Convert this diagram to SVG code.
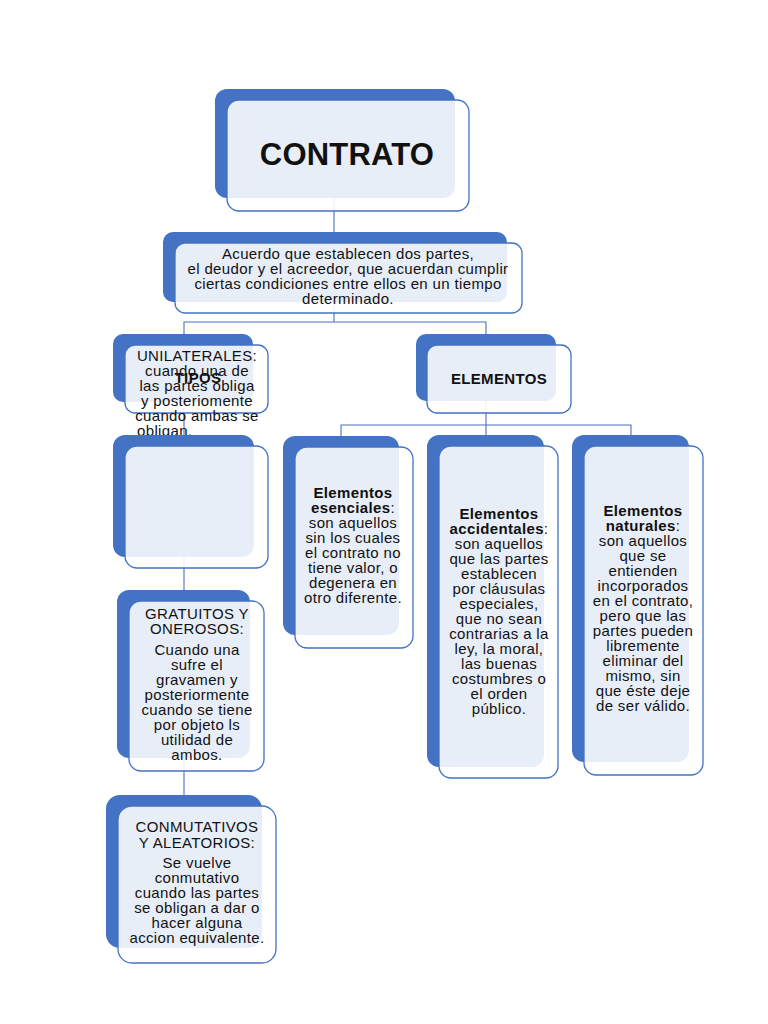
<svg xmlns="http://www.w3.org/2000/svg" width="768" height="1024" viewBox="0 0 768 1024">
<style>
.bk{fill:#4472C4;}
.fr{fill:#FFFFFF;fill-opacity:0.88;stroke:#4472C4;stroke-width:1.3;}
.cn{fill:none;stroke:#4A72BE;stroke-width:1.1;}
.t{font-family:"Liberation Sans",Arial,sans-serif;font-size:15px;fill:#111111;text-anchor:middle;letter-spacing:0.35px;}
.b{font-weight:bold;}
</style>
<rect width="768" height="1024" fill="#FFFFFF"/>
<g id="connectors">
<path class="cn" d="M334 197V322M184 334V322H486V334M486 401V425M341 436V425H631V436M486 425V436M184 402V436M184 557V591M184 758V796"/>
</g>
<g id="contrato">
<rect class="bk" x="215" y="89" width="240" height="109" rx="12"/>
<rect class="fr" x="227" y="100" width="242" height="111" rx="12"/>
<text class="t b" x="347" y="165" style="font-size:31px;letter-spacing:0.2px">CONTRATO</text>
</g>
<g id="definicion">
<rect class="bk" x="163" y="232" width="344" height="70" rx="10"/>
<rect class="fr" x="175" y="243" width="347" height="70" rx="10"/>
<text class="t" x="348" y="259">Acuerdo que establecen dos partes,</text>
<text class="t" x="348" y="274">el deudor y el acreedor, que acuerdan cumplir</text>
<text class="t" x="348" y="289">ciertas condiciones entre ellos en un tiempo</text>
<text class="t" x="348" y="304">determinado.</text>
</g>
<g id="tipos">
<rect class="bk" x="113" y="334" width="140" height="68" rx="10"/>
<rect class="fr" x="125" y="345" width="143" height="68" rx="10"/>
<text class="t b" x="198" y="383">TIPOS</text>
<text class="t" x="197" y="361">UNILATERALES:</text>
<text class="t" x="197" y="376">cuando una de</text>
<text class="t" x="197" y="391">las partes obliga</text>
<text class="t" x="197" y="406">y posteriomente</text>
<text class="t" x="197" y="421">cuando ambas se</text>
<text class="t" x="137" y="436" style="text-anchor:start">obligan.</text>
</g>
<g id="elementos">
<rect class="bk" x="416" y="334" width="140" height="67" rx="10"/>
<rect class="fr" x="427" y="345" width="144" height="68" rx="10"/>
<text class="t b" x="499" y="384">ELEMENTOS</text>
</g>
<g id="vacio">
<rect class="bk" x="113" y="435" width="141" height="122" rx="12"/>
<rect class="fr" x="125" y="446" width="143" height="122" rx="12"/>
</g>
<g id="gratuitos">
<rect class="bk" x="117" y="590" width="133" height="168" rx="12"/>
<rect class="fr" x="129" y="601" width="135" height="170" rx="12"/>
<text class="t" x="197" y="619">GRATUITOS Y</text>
<text class="t" x="197" y="634">ONEROSOS:</text>
<text class="t" x="197" y="655">Cuando una</text>
<text class="t" x="197" y="670">sufre el</text>
<text class="t" x="197" y="685">gravamen y</text>
<text class="t" x="197" y="700">posteriormente</text>
<text class="t" x="197" y="715">cuando se tiene</text>
<text class="t" x="197" y="730">por objeto ls</text>
<text class="t" x="197" y="745">utilidad de</text>
<text class="t" x="197" y="760">ambos.</text>
</g>
<g id="conmutativos">
<rect class="bk" x="106" y="795" width="156" height="153" rx="14"/>
<rect class="fr" x="118" y="806" width="158" height="157" rx="14"/>
<text class="t" x="197" y="832">CONMUTATIVOS</text>
<text class="t" x="197" y="848">Y ALEATORIOS:</text>
<text class="t" x="197" y="868">Se vuelve</text>
<text class="t" x="197" y="883">conmutativo</text>
<text class="t" x="197" y="898">cuando las partes</text>
<text class="t" x="197" y="913">se obligan a dar o</text>
<text class="t" x="197" y="928">hacer alguna</text>
<text class="t" x="197" y="943">accion equivalente.</text>
</g>
<g id="esenciales">
<rect class="bk" x="283" y="436" width="116" height="199" rx="12"/>
<rect class="fr" x="295" y="447" width="118" height="201" rx="12"/>
<text class="t" x="353" y="498"><tspan class="b">Elementos</tspan></text>
<text class="t" x="353" y="513"><tspan class="b">esenciales</tspan>:</text>
<text class="t" x="353" y="528">son aquellos</text>
<text class="t" x="353" y="543">sin los cuales</text>
<text class="t" x="353" y="558">el contrato no</text>
<text class="t" x="353" y="573">tiene valor, o</text>
<text class="t" x="353" y="588">degenera en</text>
<text class="t" x="353" y="603">otro diferente.</text>
</g>
<g id="accidentales">
<rect class="bk" x="427" y="435" width="117" height="332" rx="12"/>
<rect class="fr" x="439" y="446" width="119" height="332" rx="12"/>
<text class="t" x="499" y="519"><tspan class="b">Elementos</tspan></text>
<text class="t" x="499" y="534"><tspan class="b">accidentales</tspan>:</text>
<text class="t" x="499" y="549">son aquellos</text>
<text class="t" x="499" y="564">que las partes</text>
<text class="t" x="499" y="579">establecen</text>
<text class="t" x="499" y="594">por cláusulas</text>
<text class="t" x="499" y="609">especiales,</text>
<text class="t" x="499" y="624">que no sean</text>
<text class="t" x="499" y="639">contrarias a la</text>
<text class="t" x="499" y="654">ley, la moral,</text>
<text class="t" x="499" y="669">las buenas</text>
<text class="t" x="499" y="684">costumbres o</text>
<text class="t" x="499" y="699">el orden</text>
<text class="t" x="499" y="714">público.</text>
</g>
<g id="naturales">
<rect class="bk" x="572" y="435" width="117" height="327" rx="12"/>
<rect class="fr" x="584" y="446" width="119" height="329" rx="12"/>
<text class="t" x="643" y="516"><tspan class="b">Elementos</tspan></text>
<text class="t" x="643" y="531"><tspan class="b">naturales</tspan>:</text>
<text class="t" x="643" y="546">son aquellos</text>
<text class="t" x="643" y="561">que se</text>
<text class="t" x="643" y="576">entienden</text>
<text class="t" x="643" y="591">incorporados</text>
<text class="t" x="643" y="606">en el contrato,</text>
<text class="t" x="643" y="621">pero que las</text>
<text class="t" x="643" y="636">partes pueden</text>
<text class="t" x="643" y="651">libremente</text>
<text class="t" x="643" y="666">eliminar del</text>
<text class="t" x="643" y="681">mismo, sin</text>
<text class="t" x="643" y="696">que éste deje</text>
<text class="t" x="643" y="711">de ser válido.</text>
</g>
</svg>
